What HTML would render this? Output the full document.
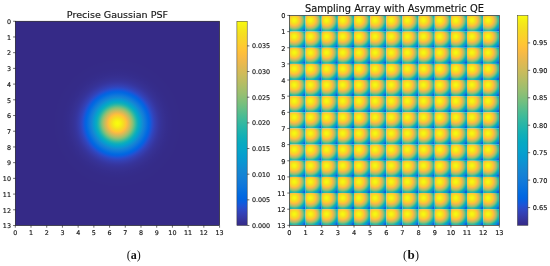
<!DOCTYPE html>
<html lang="en"><head><meta charset="utf-8"><title>Gaussian PSF and Sampling Array</title>
<style>html,body{margin:0;padding:0;background:#fff;}svg{display:block;}.t{font-family:"DejaVu Sans","Liberation Sans",sans-serif;fill:#111;stroke:#111;stroke-width:0.2px;stroke-opacity:0.7;}.c{font-family:"Liberation Serif","DejaVu Serif",serif;fill:#111;}</style></head><body>
<svg width="550" height="266" viewBox="0 0 550 266">
<rect width="550" height="266" fill="#fff"/>
<defs>
<radialGradient id="ga" gradientUnits="userSpaceOnUse" cx="117.42" cy="123.38" r="62.85">
<stop offset="0.0000" stop-color="#f9fb0e"/>
<stop offset="0.0167" stop-color="#f9fa0e"/>
<stop offset="0.0333" stop-color="#f8f611"/>
<stop offset="0.0500" stop-color="#f6f114"/>
<stop offset="0.0667" stop-color="#f5ea19"/>
<stop offset="0.0833" stop-color="#f5e21f"/>
<stop offset="0.1000" stop-color="#f7d925"/>
<stop offset="0.1167" stop-color="#fbd02c"/>
<stop offset="0.1333" stop-color="#fec734"/>
<stop offset="0.1500" stop-color="#fcbd40"/>
<stop offset="0.1667" stop-color="#edb94c"/>
<stop offset="0.1833" stop-color="#daba55"/>
<stop offset="0.2000" stop-color="#c6bc5e"/>
<stop offset="0.2167" stop-color="#b1bd66"/>
<stop offset="0.2333" stop-color="#99bf70"/>
<stop offset="0.2500" stop-color="#7fbf7a"/>
<stop offset="0.2667" stop-color="#61be88"/>
<stop offset="0.2833" stop-color="#44bb97"/>
<stop offset="0.3000" stop-color="#2bb6a6"/>
<stop offset="0.3167" stop-color="#17b1b3"/>
<stop offset="0.3333" stop-color="#09acbe"/>
<stop offset="0.3500" stop-color="#06a6c7"/>
<stop offset="0.3667" stop-color="#069ece"/>
<stop offset="0.3833" stop-color="#0b95d1"/>
<stop offset="0.4000" stop-color="#128cd2"/>
<stop offset="0.4167" stop-color="#1483d4"/>
<stop offset="0.4333" stop-color="#127dd8"/>
<stop offset="0.4500" stop-color="#0e77db"/>
<stop offset="0.4667" stop-color="#0971de"/>
<stop offset="0.4833" stop-color="#036ce0"/>
<stop offset="0.5000" stop-color="#0266e1"/>
<stop offset="0.5167" stop-color="#0a5fdf"/>
<stop offset="0.5333" stop-color="#1857d8"/>
<stop offset="0.5500" stop-color="#254fcf"/>
<stop offset="0.5667" stop-color="#2d49c4"/>
<stop offset="0.5833" stop-color="#3144bb"/>
<stop offset="0.6000" stop-color="#3340b4"/>
<stop offset="0.6167" stop-color="#353dad"/>
<stop offset="0.6333" stop-color="#363aa7"/>
<stop offset="0.6500" stop-color="#3637a2"/>
<stop offset="0.6667" stop-color="#36359d"/>
<stop offset="0.6833" stop-color="#36339a"/>
<stop offset="0.7000" stop-color="#363296"/>
<stop offset="0.7167" stop-color="#363194"/>
<stop offset="0.7333" stop-color="#363091"/>
<stop offset="0.7500" stop-color="#362f90"/>
<stop offset="0.7667" stop-color="#362e8e"/>
<stop offset="0.7833" stop-color="#352d8d"/>
<stop offset="0.8000" stop-color="#352d8c"/>
<stop offset="0.8167" stop-color="#352c8b"/>
<stop offset="0.8333" stop-color="#352c8a"/>
<stop offset="0.8500" stop-color="#352c89"/>
<stop offset="0.8667" stop-color="#352b89"/>
<stop offset="0.8833" stop-color="#352b88"/>
<stop offset="0.9000" stop-color="#352b88"/>
<stop offset="0.9167" stop-color="#352b88"/>
<stop offset="0.9333" stop-color="#352b88"/>
<stop offset="0.9500" stop-color="#352b88"/>
<stop offset="0.9667" stop-color="#352b87"/>
<stop offset="0.9833" stop-color="#352b87"/>
<stop offset="1.0000" stop-color="#352b87"/>
</radialGradient>
<radialGradient id="gb" cx="0.300" cy="0.300" r="1.1087" fx="0.300" fy="0.300">
<stop offset="0.0000" stop-color="#ffffff"/>
<stop offset="0.0208" stop-color="#ffffff"/>
<stop offset="0.0417" stop-color="#fefefe"/>
<stop offset="0.0625" stop-color="#fdfdfd"/>
<stop offset="0.0833" stop-color="#fcfcfc"/>
<stop offset="0.1042" stop-color="#fafafa"/>
<stop offset="0.1250" stop-color="#f8f8f8"/>
<stop offset="0.1458" stop-color="#f6f6f6"/>
<stop offset="0.1667" stop-color="#f3f3f3"/>
<stop offset="0.1875" stop-color="#f0f0f0"/>
<stop offset="0.2083" stop-color="#ececec"/>
<stop offset="0.2292" stop-color="#e9e9e9"/>
<stop offset="0.2500" stop-color="#e4e4e4"/>
<stop offset="0.2708" stop-color="#e0e0e0"/>
<stop offset="0.2917" stop-color="#dbdbdb"/>
<stop offset="0.3125" stop-color="#d6d6d6"/>
<stop offset="0.3333" stop-color="#d0d0d0"/>
<stop offset="0.3542" stop-color="#cbcbcb"/>
<stop offset="0.3750" stop-color="#c4c4c4"/>
<stop offset="0.3958" stop-color="#bebebe"/>
<stop offset="0.4167" stop-color="#b8b8b8"/>
<stop offset="0.4375" stop-color="#b1b1b1"/>
<stop offset="0.4583" stop-color="#a9a9a9"/>
<stop offset="0.4792" stop-color="#a2a2a2"/>
<stop offset="0.5000" stop-color="#9b9b9b"/>
<stop offset="0.5208" stop-color="#939393"/>
<stop offset="0.5417" stop-color="#8b8b8b"/>
<stop offset="0.5625" stop-color="#828282"/>
<stop offset="0.5833" stop-color="#7a7a7a"/>
<stop offset="0.6042" stop-color="#727272"/>
<stop offset="0.6250" stop-color="#696969"/>
<stop offset="0.6458" stop-color="#606060"/>
<stop offset="0.6667" stop-color="#575757"/>
<stop offset="0.6875" stop-color="#4e4e4e"/>
<stop offset="0.7083" stop-color="#454545"/>
<stop offset="0.7292" stop-color="#3b3b3b"/>
<stop offset="0.7500" stop-color="#323232"/>
<stop offset="0.7708" stop-color="#282828"/>
<stop offset="0.7917" stop-color="#1f1f1f"/>
<stop offset="0.8125" stop-color="#151515"/>
<stop offset="0.8333" stop-color="#0c0c0c"/>
<stop offset="0.8542" stop-color="#020202"/>
<stop offset="0.8750" stop-color="#000000"/>
<stop offset="0.8958" stop-color="#000000"/>
<stop offset="0.9167" stop-color="#000000"/>
<stop offset="0.9375" stop-color="#000000"/>
<stop offset="0.9583" stop-color="#000000"/>
<stop offset="0.9792" stop-color="#000000"/>
<stop offset="1.0000" stop-color="#000000"/>
</radialGradient>
<filter id="cm" filterUnits="userSpaceOnUse" x="269.4" y="-4.6" width="249.9" height="249.9" color-interpolation-filters="sRGB">
<feConvolveMatrix order="3" preserveAlpha="true" edgeMode="duplicate" kernelMatrix="0.0100 0.0800 0.0100 0.0800 0.6400 0.0800 0.0100 0.0800 0.0100"/>
<feComponentTransfer><feFuncR type="table" tableValues="0.2081 0.2116 0.2123 0.2081 0.1959 0.1707 0.1253 0.0591 0.0117 0.0060 0.0165 0.0329 0.0498 0.0629 0.0723 0.0779 0.0793 0.0749 0.0641 0.0488 0.0343 0.0265 0.0239 0.0231 0.0228 0.0267 0.0384 0.0590 0.0843 0.1133 0.1453 0.1801 0.2178 0.2586 0.3022 0.3482 0.3953 0.4420 0.4871 0.5300 0.5709 0.6099 0.6473 0.6834 0.7184 0.7525 0.7858 0.8185 0.8507 0.8824 0.9139 0.9450 0.9739 0.9938 0.9990 0.9955 0.9880 0.9789 0.9697 0.9626 0.9589 0.9598 0.9661 0.9763"/><feFuncG type="table" tableValues="0.1663 0.1898 0.2138 0.2386 0.2645 0.2919 0.3242 0.3598 0.3875 0.4086 0.4266 0.4430 0.4586 0.4737 0.4887 0.5040 0.5200 0.5375 0.5570 0.5772 0.5966 0.6137 0.6287 0.6418 0.6535 0.6642 0.6743 0.6838 0.6928 0.7015 0.7098 0.7177 0.7250 0.7317 0.7376 0.7424 0.7459 0.7481 0.7491 0.7491 0.7485 0.7473 0.7456 0.7435 0.7411 0.7384 0.7356 0.7327 0.7299 0.7274 0.7258 0.7261 0.7314 0.7455 0.7653 0.7861 0.8066 0.8271 0.8481 0.8705 0.8949 0.9218 0.9514 0.9831"/><feFuncB type="table" tableValues="0.5292 0.5777 0.6270 0.6771 0.7279 0.7792 0.8303 0.8683 0.8820 0.8828 0.8786 0.8720 0.8641 0.8554 0.8467 0.8384 0.8312 0.8263 0.8240 0.8228 0.8199 0.8135 0.8038 0.7913 0.7768 0.7607 0.7436 0.7254 0.7062 0.6859 0.6646 0.6424 0.6193 0.5954 0.5712 0.5473 0.5244 0.5033 0.4840 0.4661 0.4494 0.4337 0.4188 0.4044 0.3905 0.3768 0.3633 0.3498 0.3360 0.3217 0.3063 0.2886 0.2666 0.2403 0.2164 0.1967 0.1794 0.1633 0.1475 0.1309 0.1132 0.0948 0.0755 0.0538"/></feComponentTransfer>
</filter>
<clipPath id="clb"><rect x="289.45" y="15.45" width="209.90" height="209.90"/></clipPath>
<linearGradient id="cb" x1="0" y1="1" x2="0" y2="0">
<stop offset="0.0000" stop-color="#352a87"/>
<stop offset="0.0159" stop-color="#363093"/>
<stop offset="0.0317" stop-color="#3637a0"/>
<stop offset="0.0476" stop-color="#353dad"/>
<stop offset="0.0635" stop-color="#3243ba"/>
<stop offset="0.0794" stop-color="#2c4ac7"/>
<stop offset="0.0952" stop-color="#2053d4"/>
<stop offset="0.1111" stop-color="#0f5cdd"/>
<stop offset="0.1270" stop-color="#0363e1"/>
<stop offset="0.1429" stop-color="#0268e1"/>
<stop offset="0.1587" stop-color="#046de0"/>
<stop offset="0.1746" stop-color="#0871de"/>
<stop offset="0.1905" stop-color="#0d75dc"/>
<stop offset="0.2063" stop-color="#1079da"/>
<stop offset="0.2222" stop-color="#127dd8"/>
<stop offset="0.2381" stop-color="#1481d6"/>
<stop offset="0.2540" stop-color="#1485d4"/>
<stop offset="0.2698" stop-color="#1389d3"/>
<stop offset="0.2857" stop-color="#108ed2"/>
<stop offset="0.3016" stop-color="#0c93d2"/>
<stop offset="0.3175" stop-color="#0998d1"/>
<stop offset="0.3333" stop-color="#079ccf"/>
<stop offset="0.3492" stop-color="#06a0cd"/>
<stop offset="0.3651" stop-color="#06a4ca"/>
<stop offset="0.3810" stop-color="#06a7c6"/>
<stop offset="0.3968" stop-color="#07a9c2"/>
<stop offset="0.4127" stop-color="#0aacbe"/>
<stop offset="0.4286" stop-color="#0faeb9"/>
<stop offset="0.4444" stop-color="#15b1b4"/>
<stop offset="0.4603" stop-color="#1db3af"/>
<stop offset="0.4762" stop-color="#25b5a9"/>
<stop offset="0.4921" stop-color="#2eb7a4"/>
<stop offset="0.5079" stop-color="#38b99e"/>
<stop offset="0.5238" stop-color="#42bb98"/>
<stop offset="0.5397" stop-color="#4dbc92"/>
<stop offset="0.5556" stop-color="#59bd8c"/>
<stop offset="0.5714" stop-color="#65be86"/>
<stop offset="0.5873" stop-color="#71bf80"/>
<stop offset="0.6032" stop-color="#7cbf7b"/>
<stop offset="0.6190" stop-color="#87bf77"/>
<stop offset="0.6349" stop-color="#92bf73"/>
<stop offset="0.6508" stop-color="#9cbf6f"/>
<stop offset="0.6667" stop-color="#a5be6b"/>
<stop offset="0.6825" stop-color="#aebe67"/>
<stop offset="0.6984" stop-color="#b7bd64"/>
<stop offset="0.7143" stop-color="#c0bc60"/>
<stop offset="0.7302" stop-color="#c8bc5d"/>
<stop offset="0.7460" stop-color="#d1bb59"/>
<stop offset="0.7619" stop-color="#d9ba56"/>
<stop offset="0.7778" stop-color="#e1b952"/>
<stop offset="0.7937" stop-color="#e9b94e"/>
<stop offset="0.8095" stop-color="#f1b94a"/>
<stop offset="0.8254" stop-color="#f8bb44"/>
<stop offset="0.8413" stop-color="#fdbe3d"/>
<stop offset="0.8571" stop-color="#ffc337"/>
<stop offset="0.8730" stop-color="#fec832"/>
<stop offset="0.8889" stop-color="#fcce2e"/>
<stop offset="0.9048" stop-color="#fad32a"/>
<stop offset="0.9206" stop-color="#f7d826"/>
<stop offset="0.9365" stop-color="#f5de21"/>
<stop offset="0.9524" stop-color="#f5e41d"/>
<stop offset="0.9683" stop-color="#f5eb18"/>
<stop offset="0.9841" stop-color="#f6f313"/>
<stop offset="1.0000" stop-color="#f9fb0e"/>
</linearGradient>
</defs>
<rect x="15.30" y="21.25" width="204.25" height="204.25" fill="#352a87"/>
<circle cx="117.42" cy="123.38" r="62.85" fill="url(#ga)"/>
<rect x="15.30" y="21.25" width="204.25" height="204.25" fill="none" stroke="#151515" stroke-width="0.62"/>
<line x1="15.30" y1="225.50" x2="15.30" y2="227.70" stroke="#151515" stroke-width="0.62"/>
<line x1="13.10" y1="21.25" x2="15.30" y2="21.25" stroke="#151515" stroke-width="0.62"/>
<text class="t" x="15.30" y="235.34" font-size="6.37" text-anchor="middle">0</text>
<text class="t" x="10.95" y="23.98" font-size="6.37" text-anchor="end">0</text>
<line x1="31.01" y1="225.50" x2="31.01" y2="227.70" stroke="#151515" stroke-width="0.62"/>
<line x1="13.10" y1="36.96" x2="15.30" y2="36.96" stroke="#151515" stroke-width="0.62"/>
<text class="t" x="31.01" y="235.34" font-size="6.37" text-anchor="middle">1</text>
<text class="t" x="10.95" y="39.69" font-size="6.37" text-anchor="end">1</text>
<line x1="46.72" y1="225.50" x2="46.72" y2="227.70" stroke="#151515" stroke-width="0.62"/>
<line x1="13.10" y1="52.67" x2="15.30" y2="52.67" stroke="#151515" stroke-width="0.62"/>
<text class="t" x="46.72" y="235.34" font-size="6.37" text-anchor="middle">2</text>
<text class="t" x="10.95" y="55.40" font-size="6.37" text-anchor="end">2</text>
<line x1="62.43" y1="225.50" x2="62.43" y2="227.70" stroke="#151515" stroke-width="0.62"/>
<line x1="13.10" y1="68.38" x2="15.30" y2="68.38" stroke="#151515" stroke-width="0.62"/>
<text class="t" x="62.43" y="235.34" font-size="6.37" text-anchor="middle">3</text>
<text class="t" x="10.95" y="71.11" font-size="6.37" text-anchor="end">3</text>
<line x1="78.15" y1="225.50" x2="78.15" y2="227.70" stroke="#151515" stroke-width="0.62"/>
<line x1="13.10" y1="84.10" x2="15.30" y2="84.10" stroke="#151515" stroke-width="0.62"/>
<text class="t" x="78.15" y="235.34" font-size="6.37" text-anchor="middle">4</text>
<text class="t" x="10.95" y="86.82" font-size="6.37" text-anchor="end">4</text>
<line x1="93.86" y1="225.50" x2="93.86" y2="227.70" stroke="#151515" stroke-width="0.62"/>
<line x1="13.10" y1="99.81" x2="15.30" y2="99.81" stroke="#151515" stroke-width="0.62"/>
<text class="t" x="93.86" y="235.34" font-size="6.37" text-anchor="middle">5</text>
<text class="t" x="10.95" y="102.53" font-size="6.37" text-anchor="end">5</text>
<line x1="109.57" y1="225.50" x2="109.57" y2="227.70" stroke="#151515" stroke-width="0.62"/>
<line x1="13.10" y1="115.52" x2="15.30" y2="115.52" stroke="#151515" stroke-width="0.62"/>
<text class="t" x="109.57" y="235.34" font-size="6.37" text-anchor="middle">6</text>
<text class="t" x="10.95" y="118.24" font-size="6.37" text-anchor="end">6</text>
<line x1="125.28" y1="225.50" x2="125.28" y2="227.70" stroke="#151515" stroke-width="0.62"/>
<line x1="13.10" y1="131.23" x2="15.30" y2="131.23" stroke="#151515" stroke-width="0.62"/>
<text class="t" x="125.28" y="235.34" font-size="6.37" text-anchor="middle">7</text>
<text class="t" x="10.95" y="133.96" font-size="6.37" text-anchor="end">7</text>
<line x1="140.99" y1="225.50" x2="140.99" y2="227.70" stroke="#151515" stroke-width="0.62"/>
<line x1="13.10" y1="146.94" x2="15.30" y2="146.94" stroke="#151515" stroke-width="0.62"/>
<text class="t" x="140.99" y="235.34" font-size="6.37" text-anchor="middle">8</text>
<text class="t" x="10.95" y="149.67" font-size="6.37" text-anchor="end">8</text>
<line x1="156.70" y1="225.50" x2="156.70" y2="227.70" stroke="#151515" stroke-width="0.62"/>
<line x1="13.10" y1="162.65" x2="15.30" y2="162.65" stroke="#151515" stroke-width="0.62"/>
<text class="t" x="156.70" y="235.34" font-size="6.37" text-anchor="middle">9</text>
<text class="t" x="10.95" y="165.38" font-size="6.37" text-anchor="end">9</text>
<line x1="172.42" y1="225.50" x2="172.42" y2="227.70" stroke="#151515" stroke-width="0.62"/>
<line x1="13.10" y1="178.37" x2="15.30" y2="178.37" stroke="#151515" stroke-width="0.62"/>
<text class="t" x="172.42" y="235.34" font-size="6.37" text-anchor="middle">10</text>
<text class="t" x="10.95" y="181.09" font-size="6.37" text-anchor="end">10</text>
<line x1="188.13" y1="225.50" x2="188.13" y2="227.70" stroke="#151515" stroke-width="0.62"/>
<line x1="13.10" y1="194.08" x2="15.30" y2="194.08" stroke="#151515" stroke-width="0.62"/>
<text class="t" x="188.13" y="235.34" font-size="6.37" text-anchor="middle">11</text>
<text class="t" x="10.95" y="196.80" font-size="6.37" text-anchor="end">11</text>
<line x1="203.84" y1="225.50" x2="203.84" y2="227.70" stroke="#151515" stroke-width="0.62"/>
<line x1="13.10" y1="209.79" x2="15.30" y2="209.79" stroke="#151515" stroke-width="0.62"/>
<text class="t" x="203.84" y="235.34" font-size="6.37" text-anchor="middle">12</text>
<text class="t" x="10.95" y="212.51" font-size="6.37" text-anchor="end">12</text>
<line x1="219.55" y1="225.50" x2="219.55" y2="227.70" stroke="#151515" stroke-width="0.62"/>
<line x1="13.10" y1="225.50" x2="15.30" y2="225.50" stroke="#151515" stroke-width="0.62"/>
<text class="t" x="219.55" y="235.34" font-size="6.37" text-anchor="middle">13</text>
<text class="t" x="10.95" y="228.23" font-size="6.37" text-anchor="end">13</text>
<text class="t" x="117.42" y="17.50" font-size="9.55" text-anchor="middle">Precise Gaussian PSF</text>
<rect x="236.90" y="21.25" width="10.30" height="204.25" fill="url(#cb)" stroke="#3a3a3a" stroke-width="0.50"/>
<line x1="247.20" y1="225.50" x2="249.40" y2="225.50" stroke="#151515" stroke-width="0.62"/>
<text class="t" x="251.90" y="227.93" font-size="6.37">0.000</text>
<line x1="247.20" y1="199.84" x2="249.40" y2="199.84" stroke="#151515" stroke-width="0.62"/>
<text class="t" x="251.90" y="202.27" font-size="6.37">0.005</text>
<line x1="247.20" y1="174.18" x2="249.40" y2="174.18" stroke="#151515" stroke-width="0.62"/>
<text class="t" x="251.90" y="176.61" font-size="6.37">0.010</text>
<line x1="247.20" y1="148.52" x2="249.40" y2="148.52" stroke="#151515" stroke-width="0.62"/>
<text class="t" x="251.90" y="150.95" font-size="6.37">0.015</text>
<line x1="247.20" y1="122.86" x2="249.40" y2="122.86" stroke="#151515" stroke-width="0.62"/>
<text class="t" x="251.90" y="125.29" font-size="6.37">0.020</text>
<line x1="247.20" y1="97.20" x2="249.40" y2="97.20" stroke="#151515" stroke-width="0.62"/>
<text class="t" x="251.90" y="99.63" font-size="6.37">0.025</text>
<line x1="247.20" y1="71.54" x2="249.40" y2="71.54" stroke="#151515" stroke-width="0.62"/>
<text class="t" x="251.90" y="73.97" font-size="6.37">0.030</text>
<line x1="247.20" y1="45.88" x2="249.40" y2="45.88" stroke="#151515" stroke-width="0.62"/>
<text class="t" x="251.90" y="48.31" font-size="6.37">0.035</text>
<g clip-path="url(#clb)"><g filter="url(#cm)">
<rect x="273.30" y="-0.70" width="16.146" height="16.146" fill="url(#gb)"/>
<rect x="289.45" y="-0.70" width="16.146" height="16.146" fill="url(#gb)"/>
<rect x="305.60" y="-0.70" width="16.146" height="16.146" fill="url(#gb)"/>
<rect x="321.74" y="-0.70" width="16.146" height="16.146" fill="url(#gb)"/>
<rect x="337.89" y="-0.70" width="16.146" height="16.146" fill="url(#gb)"/>
<rect x="354.03" y="-0.70" width="16.146" height="16.146" fill="url(#gb)"/>
<rect x="370.18" y="-0.70" width="16.146" height="16.146" fill="url(#gb)"/>
<rect x="386.33" y="-0.70" width="16.146" height="16.146" fill="url(#gb)"/>
<rect x="402.47" y="-0.70" width="16.146" height="16.146" fill="url(#gb)"/>
<rect x="418.62" y="-0.70" width="16.146" height="16.146" fill="url(#gb)"/>
<rect x="434.77" y="-0.70" width="16.146" height="16.146" fill="url(#gb)"/>
<rect x="450.91" y="-0.70" width="16.146" height="16.146" fill="url(#gb)"/>
<rect x="467.06" y="-0.70" width="16.146" height="16.146" fill="url(#gb)"/>
<rect x="483.20" y="-0.70" width="16.146" height="16.146" fill="url(#gb)"/>
<rect x="499.35" y="-0.70" width="16.146" height="16.146" fill="url(#gb)"/>
<rect x="273.30" y="15.45" width="16.146" height="16.146" fill="url(#gb)"/>
<rect x="289.45" y="15.45" width="16.146" height="16.146" fill="url(#gb)"/>
<rect x="305.60" y="15.45" width="16.146" height="16.146" fill="url(#gb)"/>
<rect x="321.74" y="15.45" width="16.146" height="16.146" fill="url(#gb)"/>
<rect x="337.89" y="15.45" width="16.146" height="16.146" fill="url(#gb)"/>
<rect x="354.03" y="15.45" width="16.146" height="16.146" fill="url(#gb)"/>
<rect x="370.18" y="15.45" width="16.146" height="16.146" fill="url(#gb)"/>
<rect x="386.33" y="15.45" width="16.146" height="16.146" fill="url(#gb)"/>
<rect x="402.47" y="15.45" width="16.146" height="16.146" fill="url(#gb)"/>
<rect x="418.62" y="15.45" width="16.146" height="16.146" fill="url(#gb)"/>
<rect x="434.77" y="15.45" width="16.146" height="16.146" fill="url(#gb)"/>
<rect x="450.91" y="15.45" width="16.146" height="16.146" fill="url(#gb)"/>
<rect x="467.06" y="15.45" width="16.146" height="16.146" fill="url(#gb)"/>
<rect x="483.20" y="15.45" width="16.146" height="16.146" fill="url(#gb)"/>
<rect x="499.35" y="15.45" width="16.146" height="16.146" fill="url(#gb)"/>
<rect x="273.30" y="31.60" width="16.146" height="16.146" fill="url(#gb)"/>
<rect x="289.45" y="31.60" width="16.146" height="16.146" fill="url(#gb)"/>
<rect x="305.60" y="31.60" width="16.146" height="16.146" fill="url(#gb)"/>
<rect x="321.74" y="31.60" width="16.146" height="16.146" fill="url(#gb)"/>
<rect x="337.89" y="31.60" width="16.146" height="16.146" fill="url(#gb)"/>
<rect x="354.03" y="31.60" width="16.146" height="16.146" fill="url(#gb)"/>
<rect x="370.18" y="31.60" width="16.146" height="16.146" fill="url(#gb)"/>
<rect x="386.33" y="31.60" width="16.146" height="16.146" fill="url(#gb)"/>
<rect x="402.47" y="31.60" width="16.146" height="16.146" fill="url(#gb)"/>
<rect x="418.62" y="31.60" width="16.146" height="16.146" fill="url(#gb)"/>
<rect x="434.77" y="31.60" width="16.146" height="16.146" fill="url(#gb)"/>
<rect x="450.91" y="31.60" width="16.146" height="16.146" fill="url(#gb)"/>
<rect x="467.06" y="31.60" width="16.146" height="16.146" fill="url(#gb)"/>
<rect x="483.20" y="31.60" width="16.146" height="16.146" fill="url(#gb)"/>
<rect x="499.35" y="31.60" width="16.146" height="16.146" fill="url(#gb)"/>
<rect x="273.30" y="47.74" width="16.146" height="16.146" fill="url(#gb)"/>
<rect x="289.45" y="47.74" width="16.146" height="16.146" fill="url(#gb)"/>
<rect x="305.60" y="47.74" width="16.146" height="16.146" fill="url(#gb)"/>
<rect x="321.74" y="47.74" width="16.146" height="16.146" fill="url(#gb)"/>
<rect x="337.89" y="47.74" width="16.146" height="16.146" fill="url(#gb)"/>
<rect x="354.03" y="47.74" width="16.146" height="16.146" fill="url(#gb)"/>
<rect x="370.18" y="47.74" width="16.146" height="16.146" fill="url(#gb)"/>
<rect x="386.33" y="47.74" width="16.146" height="16.146" fill="url(#gb)"/>
<rect x="402.47" y="47.74" width="16.146" height="16.146" fill="url(#gb)"/>
<rect x="418.62" y="47.74" width="16.146" height="16.146" fill="url(#gb)"/>
<rect x="434.77" y="47.74" width="16.146" height="16.146" fill="url(#gb)"/>
<rect x="450.91" y="47.74" width="16.146" height="16.146" fill="url(#gb)"/>
<rect x="467.06" y="47.74" width="16.146" height="16.146" fill="url(#gb)"/>
<rect x="483.20" y="47.74" width="16.146" height="16.146" fill="url(#gb)"/>
<rect x="499.35" y="47.74" width="16.146" height="16.146" fill="url(#gb)"/>
<rect x="273.30" y="63.89" width="16.146" height="16.146" fill="url(#gb)"/>
<rect x="289.45" y="63.89" width="16.146" height="16.146" fill="url(#gb)"/>
<rect x="305.60" y="63.89" width="16.146" height="16.146" fill="url(#gb)"/>
<rect x="321.74" y="63.89" width="16.146" height="16.146" fill="url(#gb)"/>
<rect x="337.89" y="63.89" width="16.146" height="16.146" fill="url(#gb)"/>
<rect x="354.03" y="63.89" width="16.146" height="16.146" fill="url(#gb)"/>
<rect x="370.18" y="63.89" width="16.146" height="16.146" fill="url(#gb)"/>
<rect x="386.33" y="63.89" width="16.146" height="16.146" fill="url(#gb)"/>
<rect x="402.47" y="63.89" width="16.146" height="16.146" fill="url(#gb)"/>
<rect x="418.62" y="63.89" width="16.146" height="16.146" fill="url(#gb)"/>
<rect x="434.77" y="63.89" width="16.146" height="16.146" fill="url(#gb)"/>
<rect x="450.91" y="63.89" width="16.146" height="16.146" fill="url(#gb)"/>
<rect x="467.06" y="63.89" width="16.146" height="16.146" fill="url(#gb)"/>
<rect x="483.20" y="63.89" width="16.146" height="16.146" fill="url(#gb)"/>
<rect x="499.35" y="63.89" width="16.146" height="16.146" fill="url(#gb)"/>
<rect x="273.30" y="80.03" width="16.146" height="16.146" fill="url(#gb)"/>
<rect x="289.45" y="80.03" width="16.146" height="16.146" fill="url(#gb)"/>
<rect x="305.60" y="80.03" width="16.146" height="16.146" fill="url(#gb)"/>
<rect x="321.74" y="80.03" width="16.146" height="16.146" fill="url(#gb)"/>
<rect x="337.89" y="80.03" width="16.146" height="16.146" fill="url(#gb)"/>
<rect x="354.03" y="80.03" width="16.146" height="16.146" fill="url(#gb)"/>
<rect x="370.18" y="80.03" width="16.146" height="16.146" fill="url(#gb)"/>
<rect x="386.33" y="80.03" width="16.146" height="16.146" fill="url(#gb)"/>
<rect x="402.47" y="80.03" width="16.146" height="16.146" fill="url(#gb)"/>
<rect x="418.62" y="80.03" width="16.146" height="16.146" fill="url(#gb)"/>
<rect x="434.77" y="80.03" width="16.146" height="16.146" fill="url(#gb)"/>
<rect x="450.91" y="80.03" width="16.146" height="16.146" fill="url(#gb)"/>
<rect x="467.06" y="80.03" width="16.146" height="16.146" fill="url(#gb)"/>
<rect x="483.20" y="80.03" width="16.146" height="16.146" fill="url(#gb)"/>
<rect x="499.35" y="80.03" width="16.146" height="16.146" fill="url(#gb)"/>
<rect x="273.30" y="96.18" width="16.146" height="16.146" fill="url(#gb)"/>
<rect x="289.45" y="96.18" width="16.146" height="16.146" fill="url(#gb)"/>
<rect x="305.60" y="96.18" width="16.146" height="16.146" fill="url(#gb)"/>
<rect x="321.74" y="96.18" width="16.146" height="16.146" fill="url(#gb)"/>
<rect x="337.89" y="96.18" width="16.146" height="16.146" fill="url(#gb)"/>
<rect x="354.03" y="96.18" width="16.146" height="16.146" fill="url(#gb)"/>
<rect x="370.18" y="96.18" width="16.146" height="16.146" fill="url(#gb)"/>
<rect x="386.33" y="96.18" width="16.146" height="16.146" fill="url(#gb)"/>
<rect x="402.47" y="96.18" width="16.146" height="16.146" fill="url(#gb)"/>
<rect x="418.62" y="96.18" width="16.146" height="16.146" fill="url(#gb)"/>
<rect x="434.77" y="96.18" width="16.146" height="16.146" fill="url(#gb)"/>
<rect x="450.91" y="96.18" width="16.146" height="16.146" fill="url(#gb)"/>
<rect x="467.06" y="96.18" width="16.146" height="16.146" fill="url(#gb)"/>
<rect x="483.20" y="96.18" width="16.146" height="16.146" fill="url(#gb)"/>
<rect x="499.35" y="96.18" width="16.146" height="16.146" fill="url(#gb)"/>
<rect x="273.30" y="112.33" width="16.146" height="16.146" fill="url(#gb)"/>
<rect x="289.45" y="112.33" width="16.146" height="16.146" fill="url(#gb)"/>
<rect x="305.60" y="112.33" width="16.146" height="16.146" fill="url(#gb)"/>
<rect x="321.74" y="112.33" width="16.146" height="16.146" fill="url(#gb)"/>
<rect x="337.89" y="112.33" width="16.146" height="16.146" fill="url(#gb)"/>
<rect x="354.03" y="112.33" width="16.146" height="16.146" fill="url(#gb)"/>
<rect x="370.18" y="112.33" width="16.146" height="16.146" fill="url(#gb)"/>
<rect x="386.33" y="112.33" width="16.146" height="16.146" fill="url(#gb)"/>
<rect x="402.47" y="112.33" width="16.146" height="16.146" fill="url(#gb)"/>
<rect x="418.62" y="112.33" width="16.146" height="16.146" fill="url(#gb)"/>
<rect x="434.77" y="112.33" width="16.146" height="16.146" fill="url(#gb)"/>
<rect x="450.91" y="112.33" width="16.146" height="16.146" fill="url(#gb)"/>
<rect x="467.06" y="112.33" width="16.146" height="16.146" fill="url(#gb)"/>
<rect x="483.20" y="112.33" width="16.146" height="16.146" fill="url(#gb)"/>
<rect x="499.35" y="112.33" width="16.146" height="16.146" fill="url(#gb)"/>
<rect x="273.30" y="128.47" width="16.146" height="16.146" fill="url(#gb)"/>
<rect x="289.45" y="128.47" width="16.146" height="16.146" fill="url(#gb)"/>
<rect x="305.60" y="128.47" width="16.146" height="16.146" fill="url(#gb)"/>
<rect x="321.74" y="128.47" width="16.146" height="16.146" fill="url(#gb)"/>
<rect x="337.89" y="128.47" width="16.146" height="16.146" fill="url(#gb)"/>
<rect x="354.03" y="128.47" width="16.146" height="16.146" fill="url(#gb)"/>
<rect x="370.18" y="128.47" width="16.146" height="16.146" fill="url(#gb)"/>
<rect x="386.33" y="128.47" width="16.146" height="16.146" fill="url(#gb)"/>
<rect x="402.47" y="128.47" width="16.146" height="16.146" fill="url(#gb)"/>
<rect x="418.62" y="128.47" width="16.146" height="16.146" fill="url(#gb)"/>
<rect x="434.77" y="128.47" width="16.146" height="16.146" fill="url(#gb)"/>
<rect x="450.91" y="128.47" width="16.146" height="16.146" fill="url(#gb)"/>
<rect x="467.06" y="128.47" width="16.146" height="16.146" fill="url(#gb)"/>
<rect x="483.20" y="128.47" width="16.146" height="16.146" fill="url(#gb)"/>
<rect x="499.35" y="128.47" width="16.146" height="16.146" fill="url(#gb)"/>
<rect x="273.30" y="144.62" width="16.146" height="16.146" fill="url(#gb)"/>
<rect x="289.45" y="144.62" width="16.146" height="16.146" fill="url(#gb)"/>
<rect x="305.60" y="144.62" width="16.146" height="16.146" fill="url(#gb)"/>
<rect x="321.74" y="144.62" width="16.146" height="16.146" fill="url(#gb)"/>
<rect x="337.89" y="144.62" width="16.146" height="16.146" fill="url(#gb)"/>
<rect x="354.03" y="144.62" width="16.146" height="16.146" fill="url(#gb)"/>
<rect x="370.18" y="144.62" width="16.146" height="16.146" fill="url(#gb)"/>
<rect x="386.33" y="144.62" width="16.146" height="16.146" fill="url(#gb)"/>
<rect x="402.47" y="144.62" width="16.146" height="16.146" fill="url(#gb)"/>
<rect x="418.62" y="144.62" width="16.146" height="16.146" fill="url(#gb)"/>
<rect x="434.77" y="144.62" width="16.146" height="16.146" fill="url(#gb)"/>
<rect x="450.91" y="144.62" width="16.146" height="16.146" fill="url(#gb)"/>
<rect x="467.06" y="144.62" width="16.146" height="16.146" fill="url(#gb)"/>
<rect x="483.20" y="144.62" width="16.146" height="16.146" fill="url(#gb)"/>
<rect x="499.35" y="144.62" width="16.146" height="16.146" fill="url(#gb)"/>
<rect x="273.30" y="160.77" width="16.146" height="16.146" fill="url(#gb)"/>
<rect x="289.45" y="160.77" width="16.146" height="16.146" fill="url(#gb)"/>
<rect x="305.60" y="160.77" width="16.146" height="16.146" fill="url(#gb)"/>
<rect x="321.74" y="160.77" width="16.146" height="16.146" fill="url(#gb)"/>
<rect x="337.89" y="160.77" width="16.146" height="16.146" fill="url(#gb)"/>
<rect x="354.03" y="160.77" width="16.146" height="16.146" fill="url(#gb)"/>
<rect x="370.18" y="160.77" width="16.146" height="16.146" fill="url(#gb)"/>
<rect x="386.33" y="160.77" width="16.146" height="16.146" fill="url(#gb)"/>
<rect x="402.47" y="160.77" width="16.146" height="16.146" fill="url(#gb)"/>
<rect x="418.62" y="160.77" width="16.146" height="16.146" fill="url(#gb)"/>
<rect x="434.77" y="160.77" width="16.146" height="16.146" fill="url(#gb)"/>
<rect x="450.91" y="160.77" width="16.146" height="16.146" fill="url(#gb)"/>
<rect x="467.06" y="160.77" width="16.146" height="16.146" fill="url(#gb)"/>
<rect x="483.20" y="160.77" width="16.146" height="16.146" fill="url(#gb)"/>
<rect x="499.35" y="160.77" width="16.146" height="16.146" fill="url(#gb)"/>
<rect x="273.30" y="176.91" width="16.146" height="16.146" fill="url(#gb)"/>
<rect x="289.45" y="176.91" width="16.146" height="16.146" fill="url(#gb)"/>
<rect x="305.60" y="176.91" width="16.146" height="16.146" fill="url(#gb)"/>
<rect x="321.74" y="176.91" width="16.146" height="16.146" fill="url(#gb)"/>
<rect x="337.89" y="176.91" width="16.146" height="16.146" fill="url(#gb)"/>
<rect x="354.03" y="176.91" width="16.146" height="16.146" fill="url(#gb)"/>
<rect x="370.18" y="176.91" width="16.146" height="16.146" fill="url(#gb)"/>
<rect x="386.33" y="176.91" width="16.146" height="16.146" fill="url(#gb)"/>
<rect x="402.47" y="176.91" width="16.146" height="16.146" fill="url(#gb)"/>
<rect x="418.62" y="176.91" width="16.146" height="16.146" fill="url(#gb)"/>
<rect x="434.77" y="176.91" width="16.146" height="16.146" fill="url(#gb)"/>
<rect x="450.91" y="176.91" width="16.146" height="16.146" fill="url(#gb)"/>
<rect x="467.06" y="176.91" width="16.146" height="16.146" fill="url(#gb)"/>
<rect x="483.20" y="176.91" width="16.146" height="16.146" fill="url(#gb)"/>
<rect x="499.35" y="176.91" width="16.146" height="16.146" fill="url(#gb)"/>
<rect x="273.30" y="193.06" width="16.146" height="16.146" fill="url(#gb)"/>
<rect x="289.45" y="193.06" width="16.146" height="16.146" fill="url(#gb)"/>
<rect x="305.60" y="193.06" width="16.146" height="16.146" fill="url(#gb)"/>
<rect x="321.74" y="193.06" width="16.146" height="16.146" fill="url(#gb)"/>
<rect x="337.89" y="193.06" width="16.146" height="16.146" fill="url(#gb)"/>
<rect x="354.03" y="193.06" width="16.146" height="16.146" fill="url(#gb)"/>
<rect x="370.18" y="193.06" width="16.146" height="16.146" fill="url(#gb)"/>
<rect x="386.33" y="193.06" width="16.146" height="16.146" fill="url(#gb)"/>
<rect x="402.47" y="193.06" width="16.146" height="16.146" fill="url(#gb)"/>
<rect x="418.62" y="193.06" width="16.146" height="16.146" fill="url(#gb)"/>
<rect x="434.77" y="193.06" width="16.146" height="16.146" fill="url(#gb)"/>
<rect x="450.91" y="193.06" width="16.146" height="16.146" fill="url(#gb)"/>
<rect x="467.06" y="193.06" width="16.146" height="16.146" fill="url(#gb)"/>
<rect x="483.20" y="193.06" width="16.146" height="16.146" fill="url(#gb)"/>
<rect x="499.35" y="193.06" width="16.146" height="16.146" fill="url(#gb)"/>
<rect x="273.30" y="209.20" width="16.146" height="16.146" fill="url(#gb)"/>
<rect x="289.45" y="209.20" width="16.146" height="16.146" fill="url(#gb)"/>
<rect x="305.60" y="209.20" width="16.146" height="16.146" fill="url(#gb)"/>
<rect x="321.74" y="209.20" width="16.146" height="16.146" fill="url(#gb)"/>
<rect x="337.89" y="209.20" width="16.146" height="16.146" fill="url(#gb)"/>
<rect x="354.03" y="209.20" width="16.146" height="16.146" fill="url(#gb)"/>
<rect x="370.18" y="209.20" width="16.146" height="16.146" fill="url(#gb)"/>
<rect x="386.33" y="209.20" width="16.146" height="16.146" fill="url(#gb)"/>
<rect x="402.47" y="209.20" width="16.146" height="16.146" fill="url(#gb)"/>
<rect x="418.62" y="209.20" width="16.146" height="16.146" fill="url(#gb)"/>
<rect x="434.77" y="209.20" width="16.146" height="16.146" fill="url(#gb)"/>
<rect x="450.91" y="209.20" width="16.146" height="16.146" fill="url(#gb)"/>
<rect x="467.06" y="209.20" width="16.146" height="16.146" fill="url(#gb)"/>
<rect x="483.20" y="209.20" width="16.146" height="16.146" fill="url(#gb)"/>
<rect x="499.35" y="209.20" width="16.146" height="16.146" fill="url(#gb)"/>
<rect x="273.30" y="225.35" width="16.146" height="16.146" fill="url(#gb)"/>
<rect x="289.45" y="225.35" width="16.146" height="16.146" fill="url(#gb)"/>
<rect x="305.60" y="225.35" width="16.146" height="16.146" fill="url(#gb)"/>
<rect x="321.74" y="225.35" width="16.146" height="16.146" fill="url(#gb)"/>
<rect x="337.89" y="225.35" width="16.146" height="16.146" fill="url(#gb)"/>
<rect x="354.03" y="225.35" width="16.146" height="16.146" fill="url(#gb)"/>
<rect x="370.18" y="225.35" width="16.146" height="16.146" fill="url(#gb)"/>
<rect x="386.33" y="225.35" width="16.146" height="16.146" fill="url(#gb)"/>
<rect x="402.47" y="225.35" width="16.146" height="16.146" fill="url(#gb)"/>
<rect x="418.62" y="225.35" width="16.146" height="16.146" fill="url(#gb)"/>
<rect x="434.77" y="225.35" width="16.146" height="16.146" fill="url(#gb)"/>
<rect x="450.91" y="225.35" width="16.146" height="16.146" fill="url(#gb)"/>
<rect x="467.06" y="225.35" width="16.146" height="16.146" fill="url(#gb)"/>
<rect x="483.20" y="225.35" width="16.146" height="16.146" fill="url(#gb)"/>
<rect x="499.35" y="225.35" width="16.146" height="16.146" fill="url(#gb)"/>
</g></g>
<rect x="289.45" y="15.45" width="209.90" height="209.90" fill="none" stroke="#151515" stroke-width="0.62"/>
<line x1="289.45" y1="225.35" x2="289.45" y2="227.55" stroke="#151515" stroke-width="0.62"/>
<line x1="287.25" y1="15.45" x2="289.45" y2="15.45" stroke="#151515" stroke-width="0.62"/>
<text class="t" x="289.45" y="235.36" font-size="6.60" text-anchor="middle">0</text>
<text class="t" x="285.55" y="18.26" font-size="6.60" text-anchor="end">0</text>
<line x1="305.60" y1="225.35" x2="305.60" y2="227.55" stroke="#151515" stroke-width="0.62"/>
<line x1="287.25" y1="31.60" x2="289.45" y2="31.60" stroke="#151515" stroke-width="0.62"/>
<text class="t" x="305.60" y="235.36" font-size="6.60" text-anchor="middle">1</text>
<text class="t" x="285.55" y="34.41" font-size="6.60" text-anchor="end">1</text>
<line x1="321.74" y1="225.35" x2="321.74" y2="227.55" stroke="#151515" stroke-width="0.62"/>
<line x1="287.25" y1="47.74" x2="289.45" y2="47.74" stroke="#151515" stroke-width="0.62"/>
<text class="t" x="321.74" y="235.36" font-size="6.60" text-anchor="middle">2</text>
<text class="t" x="285.55" y="50.55" font-size="6.60" text-anchor="end">2</text>
<line x1="337.89" y1="225.35" x2="337.89" y2="227.55" stroke="#151515" stroke-width="0.62"/>
<line x1="287.25" y1="63.89" x2="289.45" y2="63.89" stroke="#151515" stroke-width="0.62"/>
<text class="t" x="337.89" y="235.36" font-size="6.60" text-anchor="middle">3</text>
<text class="t" x="285.55" y="66.70" font-size="6.60" text-anchor="end">3</text>
<line x1="354.03" y1="225.35" x2="354.03" y2="227.55" stroke="#151515" stroke-width="0.62"/>
<line x1="287.25" y1="80.03" x2="289.45" y2="80.03" stroke="#151515" stroke-width="0.62"/>
<text class="t" x="354.03" y="235.36" font-size="6.60" text-anchor="middle">4</text>
<text class="t" x="285.55" y="82.84" font-size="6.60" text-anchor="end">4</text>
<line x1="370.18" y1="225.35" x2="370.18" y2="227.55" stroke="#151515" stroke-width="0.62"/>
<line x1="287.25" y1="96.18" x2="289.45" y2="96.18" stroke="#151515" stroke-width="0.62"/>
<text class="t" x="370.18" y="235.36" font-size="6.60" text-anchor="middle">5</text>
<text class="t" x="285.55" y="98.99" font-size="6.60" text-anchor="end">5</text>
<line x1="386.33" y1="225.35" x2="386.33" y2="227.55" stroke="#151515" stroke-width="0.62"/>
<line x1="287.25" y1="112.33" x2="289.45" y2="112.33" stroke="#151515" stroke-width="0.62"/>
<text class="t" x="386.33" y="235.36" font-size="6.60" text-anchor="middle">6</text>
<text class="t" x="285.55" y="115.14" font-size="6.60" text-anchor="end">6</text>
<line x1="402.47" y1="225.35" x2="402.47" y2="227.55" stroke="#151515" stroke-width="0.62"/>
<line x1="287.25" y1="128.47" x2="289.45" y2="128.47" stroke="#151515" stroke-width="0.62"/>
<text class="t" x="402.47" y="235.36" font-size="6.60" text-anchor="middle">7</text>
<text class="t" x="285.55" y="131.28" font-size="6.60" text-anchor="end">7</text>
<line x1="418.62" y1="225.35" x2="418.62" y2="227.55" stroke="#151515" stroke-width="0.62"/>
<line x1="287.25" y1="144.62" x2="289.45" y2="144.62" stroke="#151515" stroke-width="0.62"/>
<text class="t" x="418.62" y="235.36" font-size="6.60" text-anchor="middle">8</text>
<text class="t" x="285.55" y="147.43" font-size="6.60" text-anchor="end">8</text>
<line x1="434.77" y1="225.35" x2="434.77" y2="227.55" stroke="#151515" stroke-width="0.62"/>
<line x1="287.25" y1="160.77" x2="289.45" y2="160.77" stroke="#151515" stroke-width="0.62"/>
<text class="t" x="434.77" y="235.36" font-size="6.60" text-anchor="middle">9</text>
<text class="t" x="285.55" y="163.57" font-size="6.60" text-anchor="end">9</text>
<line x1="450.91" y1="225.35" x2="450.91" y2="227.55" stroke="#151515" stroke-width="0.62"/>
<line x1="287.25" y1="176.91" x2="289.45" y2="176.91" stroke="#151515" stroke-width="0.62"/>
<text class="t" x="450.91" y="235.36" font-size="6.60" text-anchor="middle">10</text>
<text class="t" x="285.55" y="179.72" font-size="6.60" text-anchor="end">10</text>
<line x1="467.06" y1="225.35" x2="467.06" y2="227.55" stroke="#151515" stroke-width="0.62"/>
<line x1="287.25" y1="193.06" x2="289.45" y2="193.06" stroke="#151515" stroke-width="0.62"/>
<text class="t" x="467.06" y="235.36" font-size="6.60" text-anchor="middle">11</text>
<text class="t" x="285.55" y="195.87" font-size="6.60" text-anchor="end">11</text>
<line x1="483.20" y1="225.35" x2="483.20" y2="227.55" stroke="#151515" stroke-width="0.62"/>
<line x1="287.25" y1="209.20" x2="289.45" y2="209.20" stroke="#151515" stroke-width="0.62"/>
<text class="t" x="483.20" y="235.36" font-size="6.60" text-anchor="middle">12</text>
<text class="t" x="285.55" y="212.01" font-size="6.60" text-anchor="end">12</text>
<line x1="499.35" y1="225.35" x2="499.35" y2="227.55" stroke="#151515" stroke-width="0.62"/>
<line x1="287.25" y1="225.35" x2="289.45" y2="225.35" stroke="#151515" stroke-width="0.62"/>
<text class="t" x="499.35" y="235.36" font-size="6.60" text-anchor="middle">13</text>
<text class="t" x="285.55" y="228.16" font-size="6.60" text-anchor="end">13</text>
<text class="t" x="394.40" y="11.70" font-size="9.85" text-anchor="middle">Sampling Array with Asymmetric QE</text>
<rect x="517.40" y="15.45" width="10.55" height="209.90" fill="url(#cb)" stroke="#3a3a3a" stroke-width="0.50"/>
<line x1="527.95" y1="207.57" x2="530.15" y2="207.57" stroke="#151515" stroke-width="0.62"/>
<text class="t" x="532.65" y="210.07" font-size="6.60">0.65</text>
<line x1="527.95" y1="180.12" x2="530.15" y2="180.12" stroke="#151515" stroke-width="0.62"/>
<text class="t" x="532.65" y="182.63" font-size="6.60">0.70</text>
<line x1="527.95" y1="152.68" x2="530.15" y2="152.68" stroke="#151515" stroke-width="0.62"/>
<text class="t" x="532.65" y="155.18" font-size="6.60">0.75</text>
<line x1="527.95" y1="125.23" x2="530.15" y2="125.23" stroke="#151515" stroke-width="0.62"/>
<text class="t" x="532.65" y="127.74" font-size="6.60">0.80</text>
<line x1="527.95" y1="97.79" x2="530.15" y2="97.79" stroke="#151515" stroke-width="0.62"/>
<text class="t" x="532.65" y="100.29" font-size="6.60">0.85</text>
<line x1="527.95" y1="70.34" x2="530.15" y2="70.34" stroke="#151515" stroke-width="0.62"/>
<text class="t" x="532.65" y="72.85" font-size="6.60">0.90</text>
<line x1="527.95" y1="42.90" x2="530.15" y2="42.90" stroke="#151515" stroke-width="0.62"/>
<text class="t" x="532.65" y="45.40" font-size="6.60">0.95</text>
<text class="c" x="133.7" y="259.4" font-size="12" text-anchor="middle">(<tspan font-weight="bold">a</tspan>)</text>
<text class="c" x="411" y="259.4" font-size="12" text-anchor="middle">(<tspan font-weight="bold" font-size="13" dx="0.5">b</tspan><tspan dx="0.5">)</tspan></text>
</svg></body></html>
